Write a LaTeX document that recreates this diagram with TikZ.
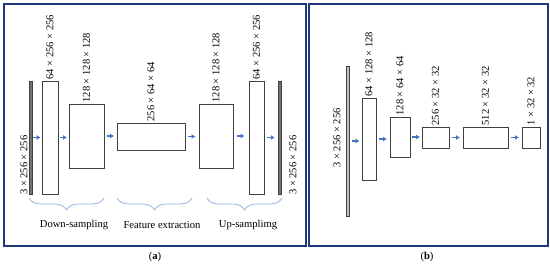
\documentclass[tikz,border=0pt]{standalone}
\usepackage{fontspec}
\setmainfont{Liberation Serif}
\usepackage{tikz}
\usetikzlibrary{arrows.meta, decorations.pathreplacing, calc}

\definecolor{framecol}{RGB}{31,56,120}
\definecolor{flowcol}{RGB}{68,114,196}
\definecolor{bracecol}{RGB}{150,180,225}

\tikzset{
    layer/.style={draw=black!75, line width=0.8pt, fill=white, inner sep=0pt},
    bar/.style={layer, fill=black!55, minimum width=2.5pt},
    dims/.style={rotate=90, anchor=west, inner sep=1pt, font=\fontsize{10.5}{12}\selectfont},
    flow/.style={flowcol, line width=1.2pt, -{Latex[length=4pt,width=5pt]}},
    brc/.style={bracecol, line width=0.8pt, decorate, decoration={brace, amplitude=12pt}},
    stage/.style={font=\fontsize{10.6}{12}\selectfont}
}

\begin{document}
\begin{tikzpicture}[x=1pt, y=-1pt]
    \useasboundingbox (0,0) rectangle (550,264);
    \draw[framecol, line width=1.5pt] (4,4) rectangle (306,246);
    \draw[framecol, line width=1.5pt] (309,4) rectangle (548,246);

    % (a)
    \node[bar, minimum height=113pt] (in1) at (31,137.5) {};
    \node[layer, minimum width=16pt, minimum height=113pt] (d1) at (50,137.5) {};
    \node[layer, minimum width=35pt, minimum height=64pt] (d2) at (86.5,136) {};
    \node[layer, minimum width=68pt, minimum height=27pt] (f1) at (151,136.5) {};
    \node[layer, minimum width=34pt, minimum height=64pt] (u1) at (216,136) {};
    \node[layer, minimum width=15pt, minimum height=113pt] (u2) at (256.5,137.5) {};
    \node[bar, minimum height=113pt] (out1) at (280,137.5) {};

    \node[dims] (lin1) at (24,196) {3 × 256 × 256};
    \node[dims] (ld1) at (d1.north) {64 × 256 × 256};
    \node[dims] (ld2) at (d2.north) {128 × 128 × 128};
    \node[dims] (lf1) at (f1.north) {256 × 64 × 64};
    \node[dims] (lu1) at (u1.north) {128 × 128 × 128};
    \node[dims] (lu2) at (u2.north) {64 × 256 × 256};
    \node[dims] (lout1) at (293,196) {3 × 256 × 256};

    \foreach \a/\b in {in1/d1, d1/d2, d2/f1, f1/u1, u1/u2, u2/out1}
        \draw[flow] ($(\a.east)!0.5!(\a.east -| \b.west)+(-4,0)$) -- ++(7.5,0);

    \draw[brc] (104,198) -- (29,198);
    \draw[brc] (192,198) -- (117,198);
    \draw[brc] (282,198) -- (207,198);
    \node[stage] (down) at (74,225) {Down-sampling};
    \node[stage] (feat) at (162,225) {Feature extraction};
    \node[stage] (up) at (248,225) {Up-samplimg};
    \node[stage] (capa) at (155,257) {(\textbf{a})};

    % (b)
    \node[bar, fill=black!25, minimum height=150pt] (bin) at (348,141) {};
    \node[layer, minimum width=14pt, minimum height=82pt] (e1) at (369,139) {};
    \node[layer, minimum width=20pt, minimum height=40pt] (e2) at (400,137) {};
    \node[layer, minimum width=27pt, minimum height=21pt] (e3) at (435.5,137.5) {};
    \node[layer, minimum width=45pt, minimum height=21pt] (e4) at (485.5,137.5) {};
    \node[layer, minimum width=18pt, minimum height=21pt] (e5) at (531,137.5) {};

    \node[dims, anchor=center] (lbin) at (337,138) {3 × 256 × 256};
    \node[dims] (le1) at (e1.north) {64 × 128 × 128};
    \node[dims] (le2) at (e2.north) {128 × 64 × 64};
    \node[dims] (le3) at (e3.north) {256 × 32 × 32};
    \node[dims] (le4) at (e4.north) {512 × 32 × 32};
    \node[dims] (le5) at (e5.north) {1 × 32 × 32};

    \foreach \a/\b in {bin/e1, e1/e2, e2/e3, e3/e4, e4/e5}
        \draw[flow] ($(\a.east)!0.5!(\a.east -| \b.west)+(-4,0)$) -- ++(8,0);

    \node[stage] (capb) at (427,257) {(\textbf{b})};
\end{tikzpicture}
\end{document}
